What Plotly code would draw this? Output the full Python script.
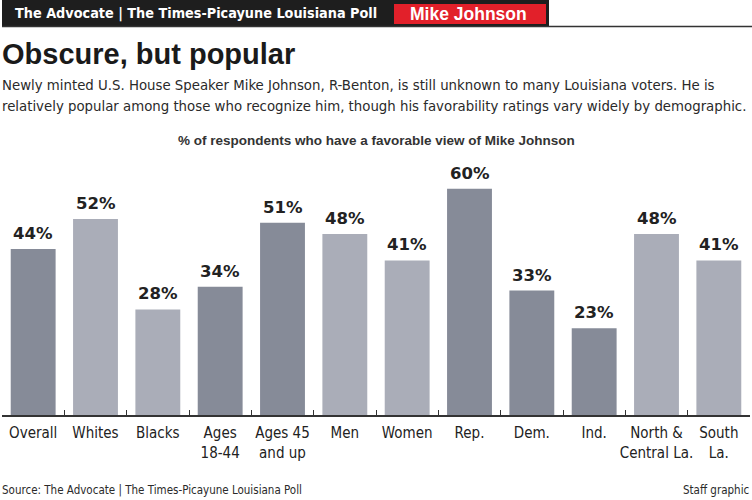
import plotly.graph_objects as go

categories = ["Overall", "Whites", "Blacks", "Ages<br>18-44", "Ages 45<br>and up", "Men",
              "Women", "Rep.", "Dem.", "Ind.", "North &<br>Central La.", "South<br>La."]
values = [44, 52, 28, 34, 51, 48, 41, 60, 33, 23, 48, 41]
shade = ["dark", "light", "light", "dark", "dark", "light", "light", "dark", "dark", "dark", "light", "light"]

DARK = "#868b98"
LIGHT = "#aaadb8"
colors = [DARK if s == "dark" else LIGHT for s in shade]

W, H = 752, 500
ML, MR, MT, MB = 2, 2, 150, 85
PW = W - ML - MR
PH = H - MT - MB
PX_PER_PCT = 3.77


def px2x(px):
    return (px - ML) / PW


def py2y(py):
    return (H - MB - py) / PH


NARROW = "DejaVu Sans Condensed, DejaVu Sans, sans-serif"
BOLD = "Liberation Sans, Arial, sans-serif"

fig = go.Figure(go.Bar(
    x=categories, y=values, marker=dict(color=colors, line=dict(width=0)),
    hoverinfo="skip",
))

annotations = []
for c, v in zip(categories, values):
    annotations.append(dict(x=c, y=v, xref="x", yref="y", text=f"{v}%", showarrow=False,
                            yanchor="bottom", yshift=4,
                            font=dict(family="DejaVu Sans, sans-serif", size=16.5, color="#222222",
                                      weight="bold")))

# header texts
annotations += [
    dict(x=px2x(13), y=py2y(14), xref="paper", yref="paper", xanchor="left", yanchor="middle",
         text="The Advocate | The Times-Picayune Louisiana Poll", showarrow=False,
         font=dict(family=NARROW, size=14.3, color="white", weight="bold")),
    dict(x=px2x(468), y=py2y(14), xref="paper", yref="paper", xanchor="center", yanchor="middle",
         text="Mike Johnson", showarrow=False,
         font=dict(family=BOLD, size=17.5, color="white", weight="bold")),
    dict(x=px2x(0), y=py2y(54), xref="paper", yref="paper", xanchor="left", yanchor="middle",
         text="Obscure, but popular", showarrow=False,
         font=dict(family=BOLD, size=29, color="#1a1a1a", weight="bold")),
    dict(x=px2x(0), y=py2y(84), xref="paper", yref="paper", xanchor="left", yanchor="middle",
         text="Newly minted U.S. House Speaker Mike Johnson, R-Benton, is still unknown to many Louisiana voters. He is",
         showarrow=False, font=dict(family=NARROW, size=14.8, color="#2a2a2a")),
    dict(x=px2x(0), y=py2y(105), xref="paper", yref="paper", xanchor="left", yanchor="middle",
         text="relatively popular among those who recognize him, though his favorability ratings vary widely by demographic.",
         showarrow=False, font=dict(family=NARROW, size=14.8, color="#2a2a2a")),
    dict(x=px2x(376), y=py2y(140), xref="paper", yref="paper", xanchor="center", yanchor="middle",
         text="% of respondents who have a favorable view of Mike Johnson", showarrow=False,
         font=dict(family=BOLD, size=13.5, color="#333333", weight="bold")),
    dict(x=px2x(0), y=py2y(490), xref="paper", yref="paper", xanchor="left", yanchor="middle",
         text="Source: The Advocate | The Times-Picayune Louisiana Poll", showarrow=False,
         font=dict(family=NARROW, size=11.5, color="#2a2a2a")),
    dict(x=px2x(752), y=py2y(490), xref="paper", yref="paper", xanchor="right", yanchor="middle",
         text="Staff graphic", showarrow=False,
         font=dict(family=NARROW, size=11.5, color="#2a2a2a")),
]

shapes = [
    dict(type="rect", xref="paper", yref="paper", x0=px2x(2), x1=px2x(549), y0=py2y(0), y1=py2y(27),
         fillcolor="#1e1e1e", line=dict(width=0), layer="below"),
    dict(type="line", xref="paper", yref="paper", x0=px2x(2), x1=px2x(752), y0=py2y(26.5), y1=py2y(26.5),
         line=dict(color="#333333", width=1.5)),
    dict(type="rect", xref="paper", yref="paper", x0=px2x(394), x1=px2x(546), y0=py2y(4), y1=py2y(24),
         fillcolor="#e2202a", line=dict(width=0)),
]

fig.update_layout(
    width=W, height=H,
    margin=dict(l=ML, r=MR, t=MT, b=MB, pad=0),
    paper_bgcolor="white", plot_bgcolor="white",
    bargap=0.28, showlegend=False,
    annotations=annotations, shapes=shapes,
    xaxis=dict(type="category", range=[-0.5, len(categories) - 0.5], tickson="boundaries",
               ticks="inside", ticklen=5, tickwidth=1.2, tickcolor="#333333",
               showline=True, linecolor="#333333", linewidth=2, showgrid=False,
               automargin=False, ticklabelstandoff=3, tickangle=0,
               tickfont=dict(family=NARROW, size=15, color="#222222"), fixedrange=True),
    yaxis=dict(visible=False, range=[0, PH / PX_PER_PCT], showgrid=False, zeroline=False,
               automargin=False, fixedrange=True),
)

fig.write_html("out.html", config={"displayModeBar": False})
